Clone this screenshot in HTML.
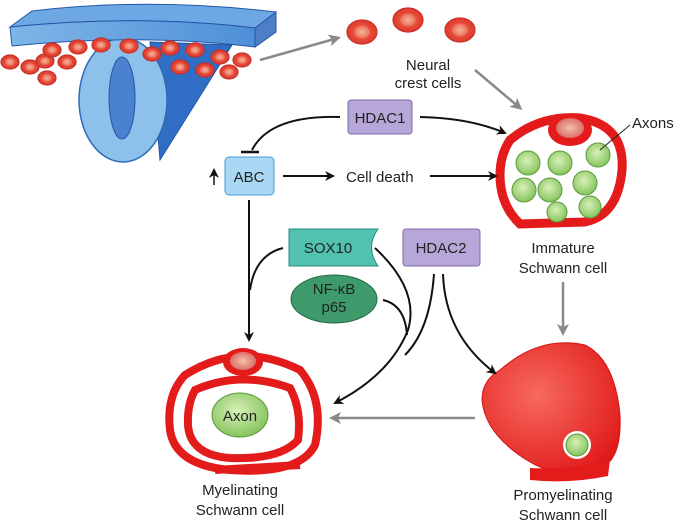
<!DOCTYPE html>
<html><head><meta charset="utf-8"><style>html,body{margin:0;padding:0;background:#fff}svg{display:block}text{font-family:"Liberation Sans",sans-serif}</style></head><body>
<svg width="685" height="524" viewBox="0 0 685 524" xmlns="http://www.w3.org/2000/svg">
<defs>
<marker id="ab" markerWidth="10" markerHeight="10" refX="8" refY="5" orient="auto" markerUnits="userSpaceOnUse"><path d="M0,0 L10,5 L0,10 L3,5 Z" fill="#111"/></marker>
<marker id="ag" markerWidth="12" markerHeight="12" refX="9" refY="6" orient="auto" markerUnits="userSpaceOnUse"><path d="M0,0 L12,6 L0,12 L3,6 Z" fill="#8a8a8a"/></marker>
<radialGradient id="rc" cx="0.5" cy="0.5" r="0.5"><stop offset="0" stop-color="#f6b39a"/><stop offset="0.45" stop-color="#ec7a62"/><stop offset="0.6" stop-color="#e54a3a"/><stop offset="1" stop-color="#e03a2c"/></radialGradient>
<radialGradient id="gc" cx="0.45" cy="0.4" r="0.6"><stop offset="0" stop-color="#d8f0b8"/><stop offset="1" stop-color="#86c45e"/></radialGradient>
<radialGradient id="rb" cx="0.4" cy="0.4" r="0.7"><stop offset="0" stop-color="#f76a5e"/><stop offset="1" stop-color="#e01a1a"/></radialGradient>
<radialGradient id="nuc" cx="0.5" cy="0.5" r="0.5"><stop offset="0" stop-color="#f8c0a8"/><stop offset="1" stop-color="#d9706a"/></radialGradient>
<linearGradient id="bl" x1="0" y1="0" x2="1" y2="0"><stop offset="0" stop-color="#7fb6e8"/><stop offset="1" stop-color="#4d8fd6"/></linearGradient>
</defs>
<!-- neural tube -->
<path d="M150,42 L232,45 L160,160 Z" fill="#2f6ec4" stroke="#1f55a8"/>
<ellipse cx="123" cy="100" rx="44" ry="62" fill="#8ec0ec" stroke="#2d6ab8" stroke-width="1.5"/>
<ellipse cx="122" cy="98" rx="13" ry="41" fill="#4a82d0" stroke="#2454a8"/>
<path d="M10,27 L32,11 Q150,-3 276,12 L255,28 Q140,14 10,27 Z" fill="#6ea8e4" stroke="#2456a8"/>
<path d="M10,27 Q140,14 255,28 L255,47 Q140,33 12,46 Z" fill="url(#bl)" stroke="#2456a8"/>
<path d="M255,28 L276,12 L276,32 L255,47 Z" fill="#4d7fc8" stroke="#2456a8"/>
<g fill="url(#rc)" stroke="#c8302a" stroke-width="1.2">
<ellipse cx="10" cy="62" rx="9" ry="7"/><ellipse cx="30" cy="67" rx="9" ry="7"/><ellipse cx="45" cy="61" rx="9" ry="7"/><ellipse cx="52" cy="50" rx="9" ry="7"/><ellipse cx="47" cy="78" rx="9" ry="7"/><ellipse cx="67" cy="62" rx="9" ry="7"/><ellipse cx="78" cy="47" rx="9" ry="7"/><ellipse cx="101" cy="45" rx="9" ry="7"/><ellipse cx="129" cy="46" rx="9" ry="7"/><ellipse cx="152" cy="54" rx="9" ry="7"/><ellipse cx="170" cy="48" rx="9" ry="7"/><ellipse cx="195" cy="50" rx="9" ry="7"/><ellipse cx="180" cy="67" rx="9" ry="7"/><ellipse cx="205" cy="70" rx="9" ry="7"/><ellipse cx="220" cy="57" rx="9" ry="7"/><ellipse cx="242" cy="60" rx="9" ry="7"/><ellipse cx="229" cy="72" rx="9" ry="7"/>
<ellipse cx="362" cy="32" rx="15" ry="12"/><ellipse cx="408" cy="20" rx="15" ry="12"/><ellipse cx="460" cy="30" rx="15" ry="12"/>
</g>
<line x1="260" y1="60" x2="338" y2="38" stroke="#8a8a8a" stroke-width="2.5" marker-end="url(#ag)"/>
<text x="428" y="70" font-size="15" text-anchor="middle" fill="#222">Neural</text>
<text x="428" y="88" font-size="15" text-anchor="middle" fill="#222">crest cells</text>
<line x1="475" y1="70" x2="520" y2="108" stroke="#8a8a8a" stroke-width="2.5" marker-end="url(#ag)"/>
<!-- immature -->
<path d="M510,140 Q540,115 580,118 Q625,125 622,170 Q618,215 585,222 L520,224 Q500,205 500,175 Q500,155 510,140 Z" fill="#fff" stroke="#e41b1b" stroke-width="9"/>
<ellipse cx="570" cy="130" rx="22" ry="16" fill="#e41b1b"/><ellipse cx="570" cy="128" rx="14" ry="10" fill="url(#nuc)"/>
<g fill="url(#gc)" stroke="#5a9a3a"><circle cx="528" cy="163" r="12"/><circle cx="560" cy="163" r="12"/><circle cx="598" cy="155" r="12"/><circle cx="524" cy="190" r="12"/><circle cx="550" cy="190" r="12"/><circle cx="585" cy="183" r="12"/><circle cx="590" cy="207" r="11"/><circle cx="557" cy="212" r="10"/></g>
<line x1="630" y1="125" x2="600" y2="150" stroke="#222" stroke-width="1"/>
<text x="632" y="128" font-size="15" fill="#222">Axons</text>
<text x="563" y="253" font-size="15" text-anchor="middle" fill="#222">Immature</text>
<text x="563" y="273" font-size="15" text-anchor="middle" fill="#222">Schwann cell</text>
<line x1="563" y1="282" x2="563" y2="333" stroke="#8a8a8a" stroke-width="2.5" marker-end="url(#ag)"/>
<!-- promyelinating -->
<path d="M500,370 Q540,335 585,345 Q615,360 620,415 Q622,460 600,468 Q560,480 530,462 Q485,435 482,400 Q482,380 500,370 Z" fill="url(#rb)" stroke="#d41414"/>
<path d="M530,468 Q580,470 610,460 L608,476 Q570,484 530,480 Z" fill="#e41b1b"/>
<circle cx="577" cy="445" r="14" fill="#fff"/><circle cx="577" cy="445" r="11" fill="url(#gc)" stroke="#5a9a3a"/>
<text x="563" y="500" font-size="15" text-anchor="middle" fill="#222">Promyelinating</text>
<text x="563" y="520" font-size="15" text-anchor="middle" fill="#222">Schwann cell</text>
<line x1="475" y1="418" x2="332" y2="418" stroke="#8a8a8a" stroke-width="2.5" marker-end="url(#ag)"/>
<!-- myelinating -->
<g fill="none" stroke="#e41b1b" stroke-width="8">
<path d="M185,375 Q240,340 300,370 Q325,400 315,445 Q300,475 230,470 Q175,465 170,430 Q166,395 185,375 Z"/>
<path d="M195,390 Q240,370 290,388 Q302,410 298,440 Q280,460 230,458 Q190,455 188,425 Q187,405 195,390 Z"/>
<line x1="215" y1="470" x2="300" y2="465"/>
</g>
<ellipse cx="243" cy="362" rx="20" ry="14" fill="#e41b1b"/><ellipse cx="243" cy="361" rx="13" ry="9" fill="url(#nuc)"/>
<ellipse cx="240" cy="415" rx="28" ry="22" fill="url(#gc)" stroke="#5a9a3a"/>
<text x="240" y="421" font-size="15" text-anchor="middle" fill="#222">Axon</text>
<text x="240" y="495" font-size="15" text-anchor="middle" fill="#222">Myelinating</text>
<text x="240" y="515" font-size="15" text-anchor="middle" fill="#222">Schwann cell</text>
<!-- boxes -->
<rect x="348" y="100" width="64" height="34" rx="3" fill="#b7a6d8" stroke="#7d6aae"/>
<text x="380" y="123" font-size="15" text-anchor="middle" fill="#222">HDAC1</text>
<rect x="225" y="157" width="49" height="38" rx="4" fill="#a8d8f4" stroke="#4a9ad0"/>
<text x="249" y="182" font-size="15" text-anchor="middle" fill="#222">ABC</text>
<line x1="214" y1="185" x2="214" y2="170" stroke="#111" stroke-width="1.5" marker-end="url(#ab)"/>
<path d="M340,117 Q270,115 252,150" fill="none" stroke="#111" stroke-width="2"/>
<line x1="241" y1="152" x2="259" y2="152" stroke="#111" stroke-width="2.5"/>
<path d="M420,117 Q470,118 505,133" fill="none" stroke="#111" stroke-width="2" marker-end="url(#ab)"/>
<line x1="283" y1="176" x2="333" y2="176" stroke="#111" stroke-width="2" marker-end="url(#ab)"/>
<text x="346" y="182" font-size="15" fill="#222">Cell death</text>
<line x1="430" y1="176" x2="496" y2="176" stroke="#111" stroke-width="2" marker-end="url(#ab)"/>
<line x1="249" y1="200" x2="249" y2="340" stroke="#111" stroke-width="2" marker-end="url(#ab)"/>
<path d="M289,229 L378,229 Q365,247 378,266 L289,266 Z" fill="#52c2b0" stroke="#2a8a7a"/>
<text x="328" y="253" font-size="15" text-anchor="middle" fill="#222">SOX10</text>
<rect x="403" y="229" width="77" height="37" rx="3" fill="#b7a6d8" stroke="#7d6aae"/>
<text x="441" y="253" font-size="15" text-anchor="middle" fill="#222">HDAC2</text>
<ellipse cx="334" cy="299" rx="43" ry="24" fill="#3e9a6a" stroke="#256a45"/>
<text x="334" y="294" font-size="15" text-anchor="middle" fill="#222">NF-κB</text>
<text x="334" y="312" font-size="15" text-anchor="middle" fill="#222">p65</text>
<path d="M283,248 Q255,255 250,290" fill="none" stroke="#111" stroke-width="2"/>
<path d="M375,248 Q420,290 408,330 Q390,375 335,403" fill="none" stroke="#111" stroke-width="2" marker-end="url(#ab)"/>
<path d="M383,300 Q405,305 407,335" fill="none" stroke="#111" stroke-width="2"/>
<path d="M434,274 Q430,330 405,355" fill="none" stroke="#111" stroke-width="2"/>
<path d="M443,274 Q445,335 495,373" fill="none" stroke="#111" stroke-width="2" marker-end="url(#ab)"/>
</svg>
</body></html>
